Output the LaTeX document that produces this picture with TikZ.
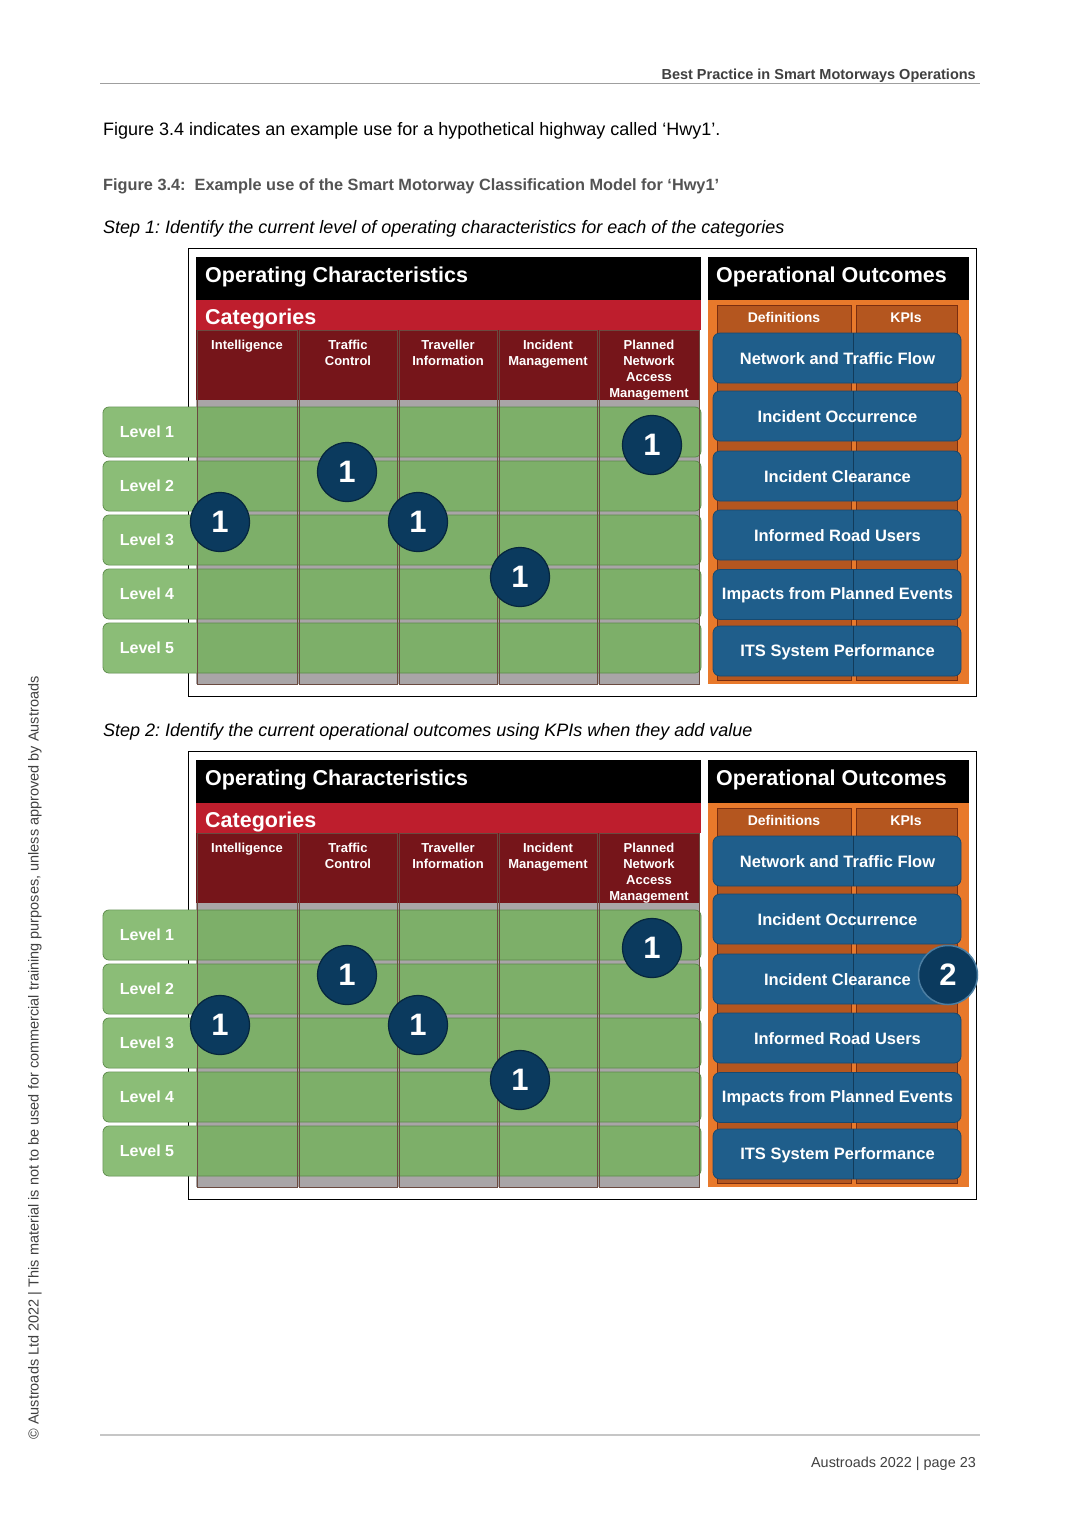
\documentclass[tikz,border=0pt]{standalone}
\usepackage{fontspec}
\setmainfont{Liberation Sans}
\newfontfamily\bodyfont{Liberation Sans}
\frenchspacing
\newcommand\fsz[2]{\fontsize{#1}{#2}\selectfont}
\definecolor{catred}{HTML}{BE1E2D}
\definecolor{hdrred}{HTML}{76151A}
\definecolor{hdredge}{HTML}{4A0C0E}
\definecolor{colgray}{HTML}{A9A5A7}
\definecolor{lvlgreen}{HTML}{7DAF69}
\definecolor{lbgreen}{HTML}{8BBD77}
\definecolor{grnedge}{HTML}{5C8A4A}
\definecolor{colline}{HTML}{6A4A40}
\definecolor{outorange}{HTML}{E8792B}
\definecolor{colbrown}{HTML}{B4561F}
\definecolor{brownedge}{HTML}{7A2E10}
\definecolor{boxblue}{HTML}{1F5E8B}
\definecolor{boxedge}{HTML}{174A70}
\definecolor{navy}{HTML}{0B3A5E}
\definecolor{navyedge}{HTML}{06263D}
\definecolor{pagegray}{HTML}{404040}
\tikzset{
  hdrtext/.style={text=white, font=\bfseries\fsz{21.5}{24}, inner sep=0pt, anchor=west},
  colhdr/.style={text=white, font=\bfseries\fsz{13}{16}, align=center, inner sep=0pt, anchor=north},
  lvlbar/.style={rectangle, rounded corners=6pt, fill=lvlgreen, draw=grnedge, line width=0.8pt, minimum width=598pt, minimum height=50pt, inner sep=0pt},
  lvltext/.style={text=white, font=\bfseries\fsz{16}{18}, inner sep=0pt},
  subhdr/.style={text=white, font=\bfseries\fsz{14}{16}, inner sep=0pt},
  bluebox/.style={rectangle, rounded corners=7pt, fill=boxblue, draw=boxedge, line width=0.8pt, minimum width=248pt, minimum height=50pt, inner sep=0pt},
  bluetext/.style={text=white, font=\bfseries\fsz{16.5}{18}, inner sep=0pt},
  badge/.style={circle, fill=navy, draw=navyedge, line width=1.2pt, minimum size=59pt, inner sep=0pt, text=white, font=\bfseries\fsz{31}{32}},
  pagetext/.style={inner sep=0pt, text=black, font=\bodyfont\fsz{18}{20}},
}
\newcommand\ocpanel{%
  \draw[line width=1pt] (188,248) rectangle (976,696);
  % left block
  \fill[black] (196,257) rectangle (701,300);
  \node[hdrtext] (occ) at (205,276.5) {Operating Characteristics};
  \fill[catred] (196,300) rectangle (701,330);
  \node[hdrtext] (cat) at (205,318.5) {Categories};
  \foreach \i/\xa/\xb/\txt in {1/196/298/{Intelligence}, 2/298/398/{Traffic\\Control}, 3/398/498/{Traveller\\Information}, 4/498/598/{Incident\\Management}, 5/598/700/{Planned\\Network\\Access\\Management}}{
    \fill[hdrred] (\xa,330) rectangle (\xb,400);
    \fill[colgray] (\xa,400) rectangle (\xb,684);
    \node[colhdr] (ch\i) at ({(\xa+\xb)/2},339.5) {\txt};
  }
  \foreach \j in {1,...,5}{
    \pgfmathsetmacro\yc{432+54*(\j-1)}
    \node[lvlbar] (bar\j) at (402,\yc) {};
    \begin{scope}
      \clip (100,\yc-26) rectangle (197,\yc+26);
      \fill[lbgreen, rounded corners=6pt] (103.4,\yc-24.6) rectangle (700,\yc+24.6);
    \end{scope}
    \node[lvltext] (lvl\j) at (147,\yc) {Level \j};
  }
  \foreach \xa/\xb in {196/298, 298/398, 398/498, 498/598, 598/700}{
    \draw[colline, line width=0.7pt] (\xa+1,330) rectangle (\xb-1,684);
  }
  \node[badge] (b1) at (220,522) {1};
  \node[badge] (b2) at (347,472) {1};
  \node[badge] (b3) at (418,522) {1};
  \node[badge] (b4) at (520,577) {1};
  \node[badge] (b5) at (652,445) {1};
  % right block
  \fill[black] (708,257) rectangle (969,300);
  \node[hdrtext] (oo) at (716,276.5) {Operational Outcomes};
  \fill[outorange] (708,300) rectangle (969,684);
  \filldraw[fill=colbrown, draw=brownedge, line width=0.8pt] (717,305) rectangle (851,680);
  \filldraw[fill=colbrown, draw=brownedge, line width=0.8pt] (856,305) rectangle (957,680);
  \node[subhdr] (def) at (784,317.5) {Definitions};
  \node[subhdr] (kpi) at (906,317.5) {KPIs};
  \foreach \k/\yc/\txt in {1/358/{Network and Traffic Flow}, 2/416/{Incident Occurrence}, 3/476/{Incident Clearance}, 4/535/{Informed Road Users}, 5/594.5/{Impacts from Planned Events}, 6/651/{ITS System Performance}}{
    \node[bluebox] (ob\k) at (837,\yc) {};
    \draw[boxedge!80!black, line width=0.8pt] (853.5,\yc-25) -- (853.5,\yc+25);
    \node[bluetext] (ot\k) at (837.5,\yc+1) {\txt};
  }
}
\begin{document}
\begin{tikzpicture}[x=1pt,y=-1pt]
\useasboundingbox[fill=white] (0,0) rectangle (1080,1527);
% page header
\node[pagetext, anchor=base east, text=pagegray, font=\bodyfont\bfseries\fsz{14.5}{17}] (runhead) at (976,79.5) {Best Practice in Smart Motorways Operations};
\draw[gray!75, line width=1.3pt] (100,83.5) -- (980,83.5);
\node[pagetext, anchor=base west] (intro) at (103,135.5) {Figure 3.4 indicates an example use for a hypothetical highway called ‘Hwy1’.};
\node[pagetext, anchor=base west, text=pagegray!90, font=\bodyfont\bfseries\fsz{16.3}{18}] (caption) at (103,190) {Figure 3.4:\ \ Example use of the Smart Motorway Classification Model for ‘Hwy1’};
\node[pagetext, anchor=base west, font=\bodyfont\itshape\fsz{18}{20}] (step1) at (103,233.5) {Step 1: Identify the current level of operating characteristics for each of the categories};
\begin{scope}[name prefix=A-]
  \ocpanel
\end{scope}
\node[pagetext, anchor=base west, font=\bodyfont\itshape\fsz{18}{20}] (step2) at (103,736.5) {Step 2: Identify the current operational outcomes using KPIs when they add value};
\begin{scope}[name prefix=B-, yshift=-503pt]
  \ocpanel
  \node[badge, draw=boxblue!80!white, line width=1.5pt] (two) at (948,472) {2};
\end{scope}
% footer
\draw[gray!45, line width=1.2pt] (100,1435) -- (980,1435);
\node[pagetext, anchor=base east, text=pagegray, font=\bodyfont\fsz{14.4}{17}] (footer) at (976,1467.5) {Austroads 2022 | page 23};
\node[pagetext, rotate=90, text=pagegray, font=\bodyfont\fsz{14.5}{17}] (vert) at (35,1058) {© Austroads Ltd 2022 | This material is not to be used for commercial training purposes, unless approved by Austroads};
\end{tikzpicture}
\end{document}
